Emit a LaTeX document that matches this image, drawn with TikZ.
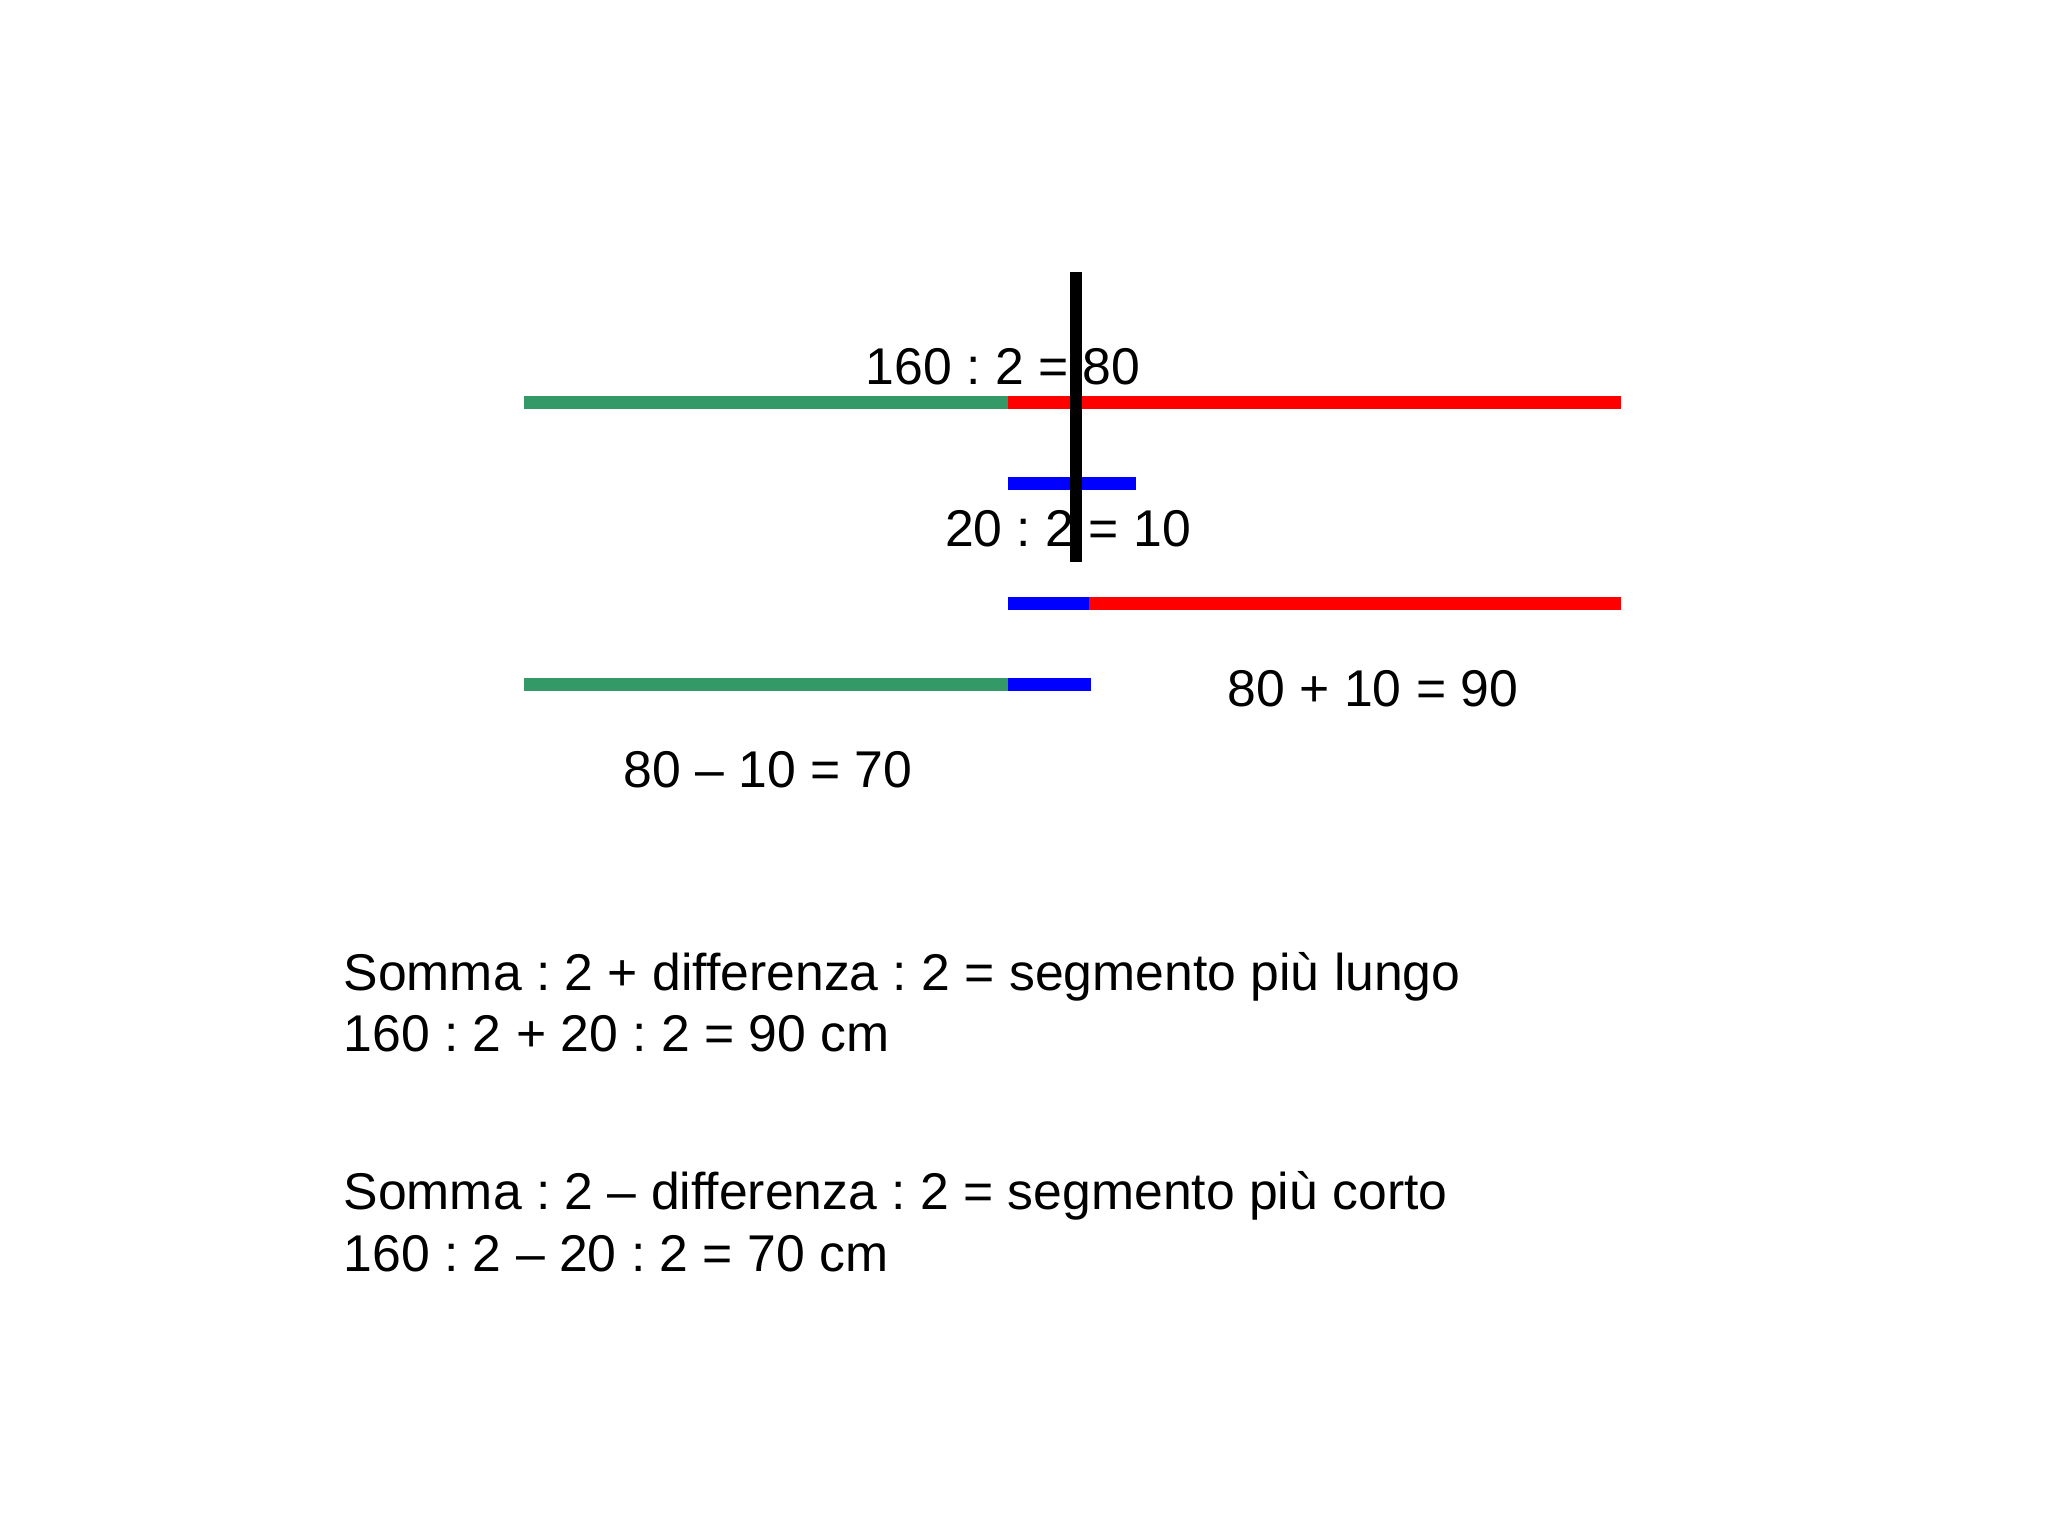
\documentclass[tikz,border=0pt]{standalone}
\usepackage{fontspec}
\setmainfont{Liberation Sans}
\frenchspacing
\definecolor{verde}{RGB}{51,153,102}
\definecolor{rosso}{RGB}{255,0,0}
\definecolor{blu}{RGB}{0,0,255}
\begin{document}
\begin{tikzpicture}[x=0.01cm, y=-0.01cm,
        seg/.style={line width=3.7pt},
        asse/.style={line width=3.6pt, black},
        conto/.style={font=\fontsize{14.7}{17}\selectfont, inner sep=0pt, anchor=base},
        riga/.style={font=\fontsize{14.7}{17}\selectfont, inner sep=0pt, anchor=base west}]
    \useasboundingbox (0,0) rectangle (2048,1536);
    % somma
    \coordinate (s1) at (524,402);
    \coordinate (s2) at (1008,402);
    \coordinate (s3) at (1621,402);
    \draw[seg, verde] (s1) -- (s2);
    \draw[seg, rosso] (s2) -- (s3);
    % differenza
    \coordinate (d1) at (1008,483);
    \coordinate (d2) at (1136,483);
    \draw[seg, blu] (d1) -- (d2);
    % segmento piu lungo
    \coordinate (l1) at (1008,603);
    \coordinate (l2) at (1089,603);
    \coordinate (l3) at (1621,603);
    \draw[seg, blu] (l1) -- (l2);
    \draw[seg, rosso] (l2) -- (l3);
    % segmento piu corto
    \coordinate (c1) at (524,684);
    \coordinate (c2) at (1008,684);
    \coordinate (c3) at (1091,684);
    \draw[seg, verde] (c1) -- (c2);
    \draw[seg, blu] (c2) -- (c3);
    \node[conto] (meta) at (1003,384) {160 : 2 = 80};
    \node[conto] (metad) at (1068,546) {20 : 2 = 10};
    \node[conto] (lungo) at (1373,706) {80 + 10 = 90};
    \node[conto] (corto) at (768,787) {80 -- 10 = 70};
    % asse
    \coordinate (a1) at (1076,272);
    \coordinate (a2) at (1076,562);
    \draw[asse] (a1) -- (a2);
    % regole
    \node[riga] (r1) at (343,990) {Somma : 2 + differenza : 2 = segmento più lungo};
    \node[riga] (r2) at (343,1051) {160 : 2 + 20 : 2 = 90 cm};
    \node[riga] (r3) at (343,1209) {Somma : 2 -- differenza : 2 = segmento più corto};
    \node[riga] (r4) at (343,1271) {160 : 2 -- 20 : 2 = 70 cm};
\end{tikzpicture}
\end{document}
